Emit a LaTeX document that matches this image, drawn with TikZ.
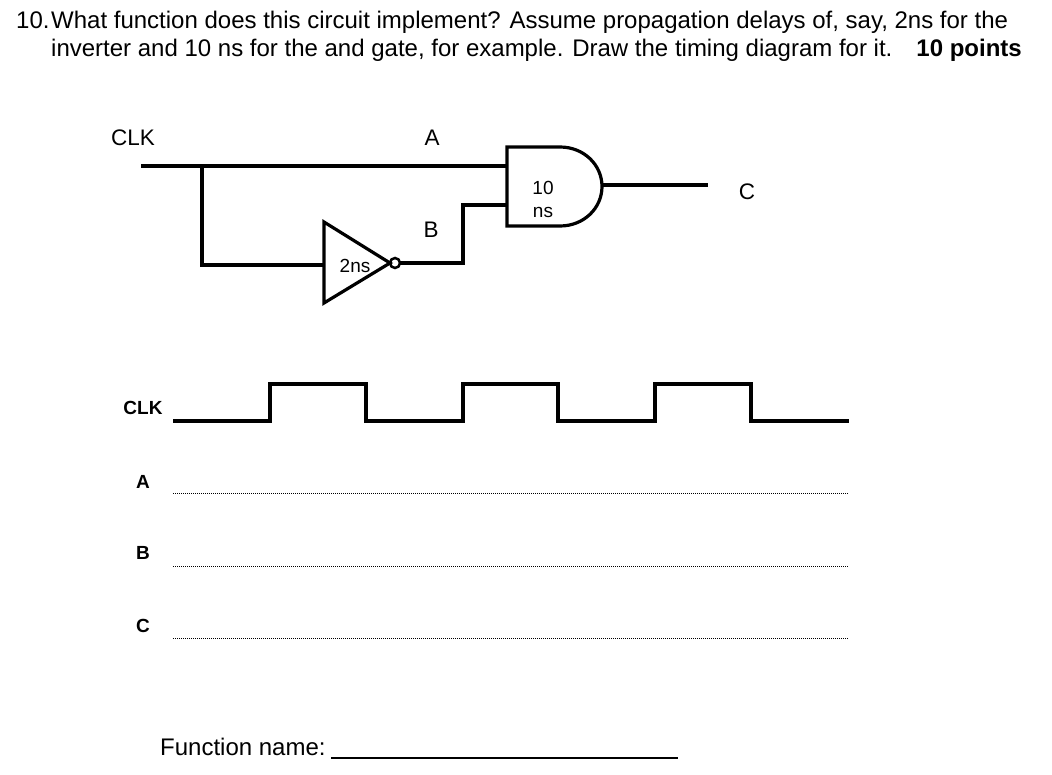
\documentclass[tikz,border=0pt]{standalone}
\usepackage{fontspec}
\setmainfont{Liberation Sans}
\begin{document}
\begin{tikzpicture}[x=1pt,y=-1pt,
  wire/.style={line width=3.2pt},
  dots/.style={densely dotted,line width=1pt},
  big/.style={font=\fontsize{24}{28}\selectfont},
  lab/.style={font=\fontsize{22.5}{26}\selectfont},
  sml/.style={font=\fontsize{19}{22}\selectfont},
  blab/.style={font=\bfseries\fontsize{19}{22}\selectfont}]
\useasboundingbox (0,0) rectangle (1052,775);
\node[big,anchor=base west,inner sep=0] (n10) at (16,29) {10.};
\node[big,anchor=base west,inner sep=0] (t1) at (51,29) {What function does this circuit implement? Assume propagation delays of, say, 2ns for the};
\node[big,anchor=base west,inner sep=0] (t2) at (51,57) {inverter and 10 ns for the and gate, for example. Draw the timing diagram for it.};
\node[anchor=base east,inner sep=0,font=\bfseries\fontsize{24}{28}\selectfont] (pts) at (1022,57) {10 points};
% circuit
\coordinate (cs) at (141,166);
\coordinate (br) at (202,166);
\coordinate (ga) at (507,166);
\draw[wire] (cs) -- (ga);
\draw[wire] (br) |- (324,265);
\draw[wire] (324,222) -- (324,303) -- (390,263) -- cycle;
\draw[line width=2.5pt] (395,263) circle (5);
\draw[wire] (400,263) -- (463,263) -- (463,205) -- (507,205);
\draw[wire] (507,147) -- (560,147) .. controls (584,147) and (602,165) .. (602,186.5) .. controls (602,208) and (584,226) .. (560,226) -- (507,226) -- cycle;
\draw[wire] (602,185) -- (708,185);
\node[lab] (lclk) at (133,138) {CLK};
\node[lab] (la) at (432,138) {A};
\node[lab] (lb) at (431,230) {B};
\node[lab] (lc) at (747,192) {C};
\node[sml] (g1) at (543,188) {10};
\node[sml] (g2) at (543,212) {ns};
\node[sml] (inv) at (355,266) {2ns};
% timing
\draw[wire] (173,421) -- (270,421) -- (270,384) -- (366,384) -- (366,421) -- (463,421) -- (463,384) -- (558,384) -- (558,421) -- (655,421) -- (655,384) -- (751,384) -- (751,421) -- (849,421);
\node[blab] (tclk) at (143,408) {CLK};
\node[blab] (ta) at (143,482) {A};
\node[blab] (tb) at (143,553) {B};
\node[blab] (tc) at (143,626) {C};
\draw[dots] (173,493) -- (849,493);
\draw[dots] (173,566) -- (849,566);
\draw[dots] (173,638) -- (849,638);
\node[big,anchor=base west,inner sep=0] (fn) at (160,755) {Function name:};
\draw[line width=1.2pt] (331,758) -- (678,758);
\end{tikzpicture}
\end{document}
